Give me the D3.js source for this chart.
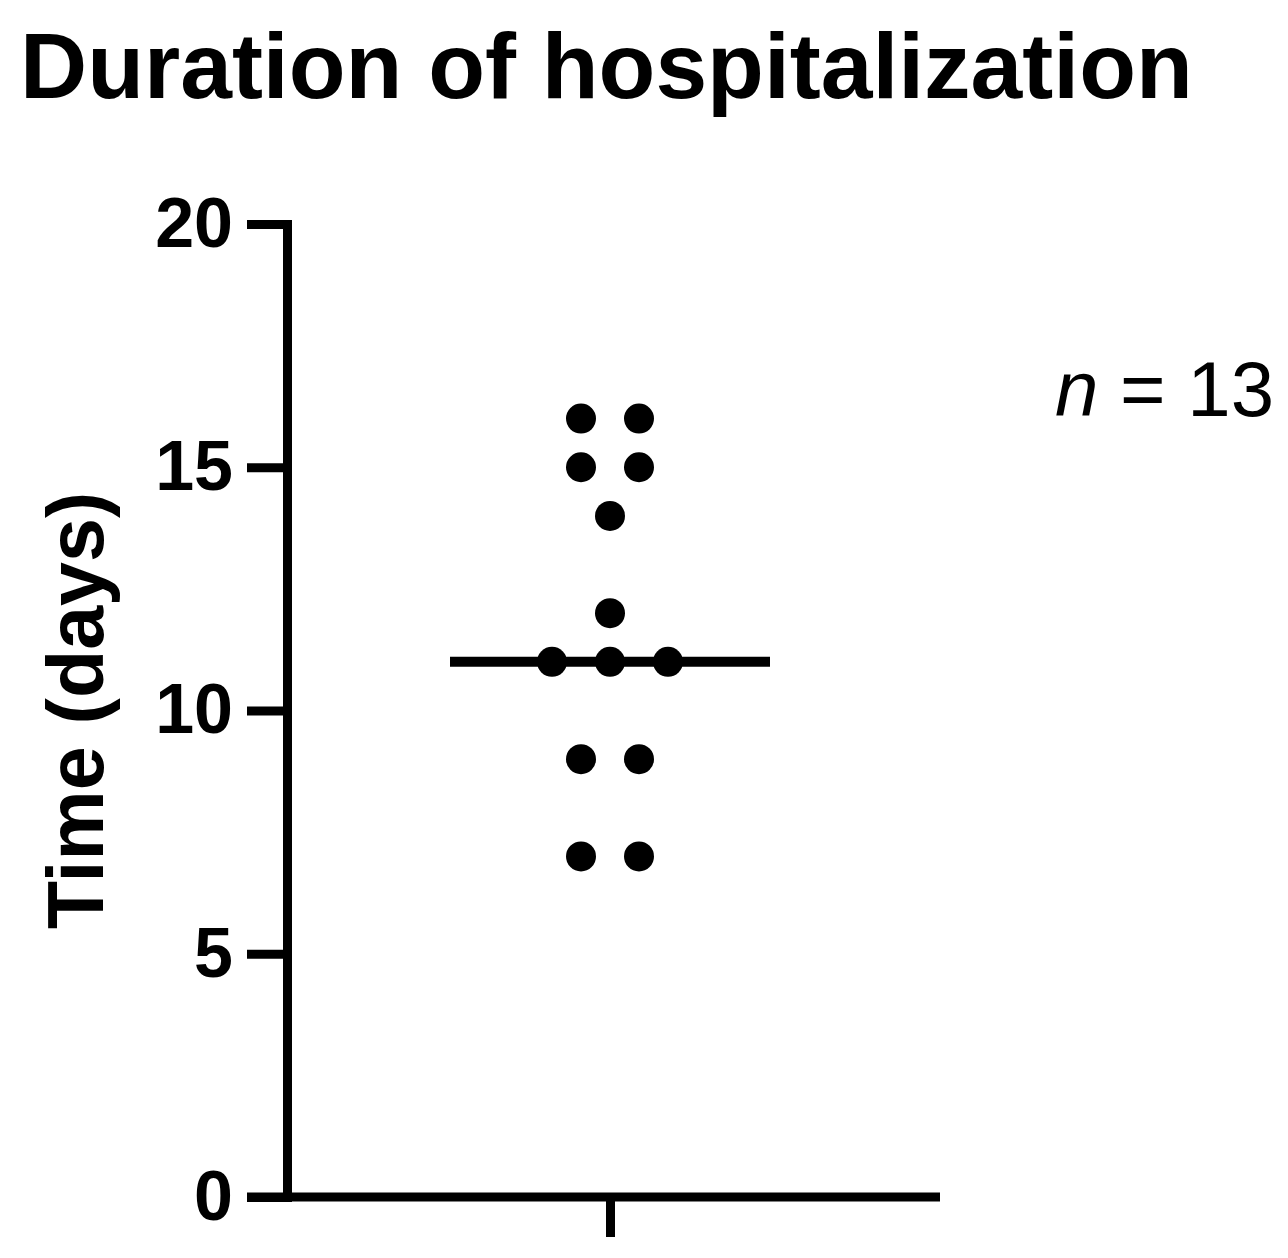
<!DOCTYPE html>
<html>
<head>
<meta charset="utf-8">
<script src="https://cdn.jsdelivr.net/npm/d3@7"></script>
<style>
  body { margin: 0; background: #fff; }
  svg { display: block; }
</style>
</head>
<body>
<div id="chart"></div>
<script>
// data
const groups = [""];                                        // single column, no label
const durations = [16, 16, 15, 15, 14, 12, 11, 11, 11, 9, 9, 7, 7]; // days, n = 13
const yTicks = [0, 5, 10, 15, 20];
const titleText = "Duration of hospitalization";
const yLabel = "Time (days)";

const W = 1288, H = 1258;
const font = "'Liberation Sans', Arial, Helvetica, sans-serif";
const axisW = 9;      // stroke width of axes
const tickLen = 40;
const dotR = 15;
const dotGap = 58;    // horizontal spacing between tied points
const medianHalf = 160;

const plot = {left: 287, right: 940, top: 224, bottom: 1197};

const svg = d3.select("#chart").append("svg")
    .attr("width", W)
    .attr("height", H);

const y = d3.scaleLinear().domain([0, 20]).range([plot.bottom, plot.top]);
const x = d3.scalePoint().domain(groups).range([plot.left, 933]).padding(0.5);

//title
svg.append("text")
    .attr("x", 20)
    .attr("y", 98)
    .attr("font-family", font)
    .attr("font-weight", "bold")
    .attr("font-size", 93)
    .text(titleText);

//y axis
const gy = svg.append("g")
    .attr("transform", `translate(${plot.left},0)`)
    .call(d3.axisLeft(y).tickValues(yTicks).tickSize(tickLen).tickSizeOuter(0).tickPadding(14));
gy.select(".domain").attr("stroke", "#000").attr("stroke-width", axisW).attr("stroke-linecap", "square");
gy.selectAll(".tick line").attr("stroke", "#000").attr("stroke-width", axisW);
gy.selectAll(".tick text")
    .attr("font-family", font)
    .attr("font-weight", "bold")
    .attr("font-size", 70)
    .attr("fill", "#000");

//x axis
const gx = svg.append("g")
    .attr("transform", `translate(0,${plot.bottom})`)
    .call(d3.axisBottom(x).tickSize(tickLen).tickSizeOuter(0));
gx.select(".domain").remove();
gx.selectAll(".tick line").attr("stroke", "#000").attr("stroke-width", axisW);
gx.selectAll(".tick text").remove();
gx.append("line")
    .attr("x1", plot.left - tickLen)
    .attr("x2", plot.right)
    .attr("stroke", "#000")
    .attr("stroke-width", axisW);

//y label
svg.append("text")
    .attr("transform", `translate(103,${y(10)}) rotate(-90)`)
    .attr("text-anchor", "middle")
    .attr("font-family", font)
    .attr("font-weight", "bold")
    .attr("font-size", 79)
    .text(yLabel);

//points: tied values spread symmetrically around the column centre
const counts = d3.rollup(durations, v => v.length, d => d);
const seen = new Map();
const pts = durations.map(d => {
    const k = seen.get(d) || 0;
    seen.set(d, k + 1);
    const n = counts.get(d);
    return {value: d, offset: (k - (n - 1) / 2) * dotGap};
});

svg.append("g")
    .selectAll("circle")
    .data(pts)
    .join("circle")
    .attr("cx", d => x(groups[0]) + d.offset)
    .attr("cy", d => y(d.value))
    .attr("r", dotR)
    .attr("fill", "#000");

//median line
const med = d3.median(durations);
svg.append("line")
    .attr("x1", x(groups[0]) - medianHalf)
    .attr("x2", x(groups[0]) + medianHalf)
    .attr("y1", y(med))
    .attr("y2", y(med))
    .attr("stroke", "#000")
    .attr("stroke-width", 10);

//n annotation
const nText = svg.append("text")
    .attr("x", 1055)
    .attr("y", 416)
    .attr("font-family", font)
    .attr("font-size", 78)
    .attr("fill", "#000");
nText.append("tspan").attr("font-style", "italic").text("n");
nText.append("tspan").text(" = " + durations.length);
</script>
</body>
</html>
